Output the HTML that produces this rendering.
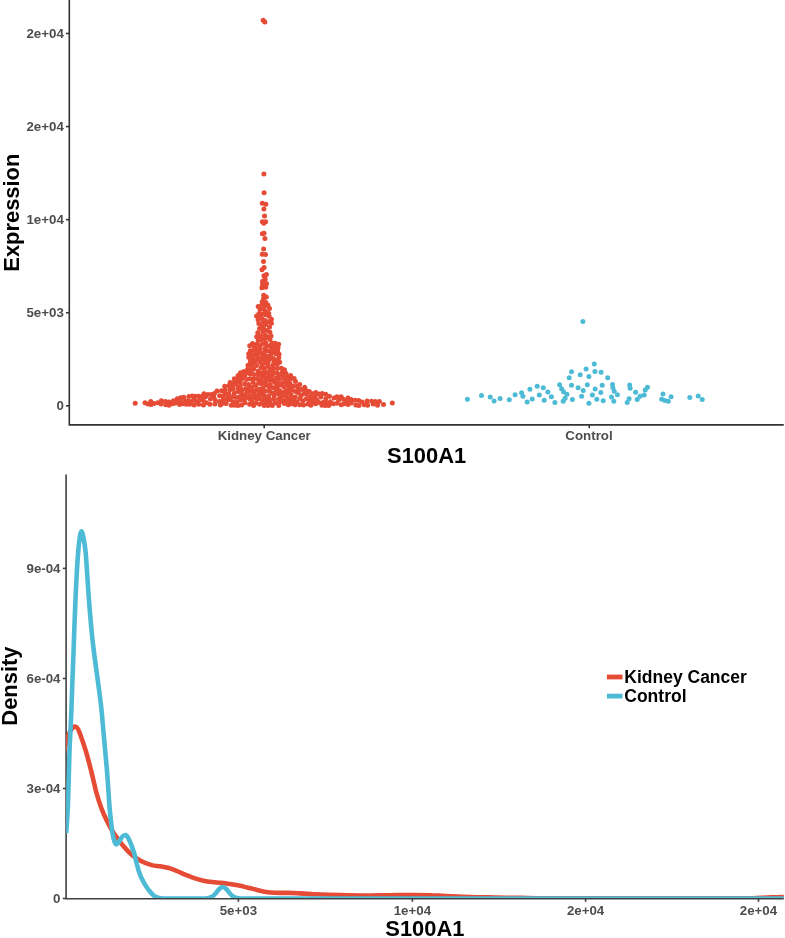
<!DOCTYPE html>
<html lang="en"><head><meta charset="utf-8"><title>S100A1 expression</title>
<style>html,body{margin:0;padding:0;background:#fff;}body{width:785px;height:938px;overflow:hidden;}svg{display:block;font-family:"Liberation Sans",Arial,sans-serif;font-weight:bold;}.tk{font-size:13.3px;fill:#4D4D4D;}.ti{font-size:21.9px;fill:#000;}.lg{font-size:17.5px;fill:#000;}.ax{stroke:#333333;stroke-width:1.6;fill:none;}</style></head><body>
<svg width="785" height="938" viewBox="0 0 785 938">
<rect width="785" height="938" fill="#fff"/>
<defs><clipPath id="cp"><rect x="66.1" y="474" width="717.7" height="424.0"/></clipPath></defs>
<g class="ax">
<path d="M69.3,0V424.9H783.8"/>
<path d="M66.0,33.50H69.3"/>
<path d="M66.0,126.58H69.3"/>
<path d="M66.0,219.66H69.3"/>
<path d="M66.0,312.74H69.3"/>
<path d="M66.0,405.82H69.3"/>
<path d="M264.2,424.9V428.2"/><path d="M589.3,424.9V428.2"/>
</g>
<text class="tk" x="63.8" y="37.95" text-anchor="end">2e+04</text>
<text class="tk" x="63.8" y="131.03" text-anchor="end">2e+04</text>
<text class="tk" x="63.8" y="224.11" text-anchor="end">1e+04</text>
<text class="tk" x="63.8" y="317.19" text-anchor="end">5e+03</text>
<text class="tk" x="63.8" y="410.27" text-anchor="end">0</text>
<text class="tk" x="264.2" y="440" text-anchor="middle">Kidney Cancer</text>
<text class="tk" x="589" y="440" text-anchor="middle">Control</text>
<text class="ti" x="426.6" y="462.6" text-anchor="middle">S100A1</text>
<text class="ti" transform="translate(18.7,212.7) rotate(-90)" text-anchor="middle">Expression</text>
<g fill="#E64B35">
<circle cx="263.2" cy="20.25" r="2.5"/>
<circle cx="264.8" cy="22.05" r="2.5"/>
<circle cx="263.9" cy="174.05" r="2.5"/>
<circle cx="264.1" cy="192.75" r="2.5"/>
<circle cx="262.3" cy="203.35" r="2.5"/>
<circle cx="265.8" cy="204.25" r="2.5"/>
<circle cx="263.9" cy="208.95" r="2.5"/>
<circle cx="264.5" cy="216.05" r="2.5"/>
<circle cx="262.4" cy="221.85" r="2.5"/>
<circle cx="265.6" cy="221.65" r="2.5"/>
<circle cx="263.8" cy="223.25" r="2.5"/>
<circle cx="262.4" cy="233.85" r="2.5"/>
<circle cx="264.0" cy="233.35" r="2.5"/>
<circle cx="264.9" cy="238.55" r="2.5"/>
<circle cx="263.6" cy="249.05" r="2.5"/>
<circle cx="262.3" cy="254.15" r="2.5"/>
<circle cx="265.5" cy="254.55" r="2.5"/>
<circle cx="263.5" cy="261.45" r="2.5"/>
<circle cx="264.1" cy="267.55" r="2.5"/>
<circle cx="262.0" cy="269.85" r="2.5"/>
<circle cx="266.4" cy="274.55" r="2.5"/>
<circle cx="263.9" cy="275.85" r="2.5"/>
<circle cx="265.2" cy="279.05" r="2.5"/>
<circle cx="262.6" cy="281.35" r="2.5"/>
<circle cx="266.4" cy="283.55" r="2.5"/>
<circle cx="135.2" cy="403.15" r="2.5"/>
<circle cx="392.3" cy="403.05" r="2.5"/>
<circle cx="258.8" cy="323.53" r="2.5"/>
<circle cx="250.4" cy="363.21" r="2.5"/>
<circle cx="259.8" cy="349.25" r="2.5"/>
<circle cx="249.7" cy="345.80" r="2.5"/>
<circle cx="256.6" cy="336.85" r="2.5"/>
<circle cx="263.7" cy="295.25" r="2.5"/>
<circle cx="236.0" cy="384.55" r="2.5"/>
<circle cx="265.5" cy="311.33" r="2.5"/>
<circle cx="278.5" cy="399.21" r="2.5"/>
<circle cx="269.9" cy="332.37" r="2.5"/>
<circle cx="245.7" cy="388.38" r="2.5"/>
<circle cx="262.2" cy="301.75" r="2.5"/>
<circle cx="268.9" cy="321.67" r="2.5"/>
<circle cx="264.9" cy="306.17" r="2.5"/>
<circle cx="260.0" cy="361.75" r="2.5"/>
<circle cx="250.4" cy="350.69" r="2.5"/>
<circle cx="260.8" cy="336.12" r="2.5"/>
<circle cx="262.5" cy="355.28" r="2.5"/>
<circle cx="253.9" cy="369.04" r="2.5"/>
<circle cx="285.7" cy="390.40" r="2.5"/>
<circle cx="271.4" cy="319.18" r="2.5"/>
<circle cx="263.6" cy="298.57" r="2.5"/>
<circle cx="244.9" cy="376.09" r="2.5"/>
<circle cx="252.6" cy="343.56" r="2.5"/>
<circle cx="272.8" cy="365.30" r="2.5"/>
<circle cx="275.6" cy="353.76" r="2.5"/>
<circle cx="266.5" cy="356.35" r="2.5"/>
<circle cx="269.9" cy="339.59" r="2.5"/>
<circle cx="259.2" cy="398.84" r="2.5"/>
<circle cx="269.9" cy="369.34" r="2.5"/>
<circle cx="341.3" cy="404.71" r="2.5"/>
<circle cx="262.2" cy="318.77" r="2.5"/>
<circle cx="248.0" cy="365.36" r="2.5"/>
<circle cx="258.2" cy="340.25" r="2.5"/>
<circle cx="262.6" cy="314.29" r="2.5"/>
<circle cx="225.1" cy="389.95" r="2.5"/>
<circle cx="264.9" cy="338.74" r="2.5"/>
<circle cx="295.5" cy="391.40" r="2.5"/>
<circle cx="309.3" cy="391.50" r="2.5"/>
<circle cx="265.8" cy="343.08" r="2.5"/>
<circle cx="256.5" cy="316.12" r="2.5"/>
<circle cx="264.6" cy="368.01" r="2.5"/>
<circle cx="269.5" cy="359.16" r="2.5"/>
<circle cx="292.1" cy="390.33" r="2.5"/>
<circle cx="262.8" cy="331.85" r="2.5"/>
<circle cx="260.1" cy="309.57" r="2.5"/>
<circle cx="262.5" cy="284.28" r="2.5"/>
<circle cx="265.7" cy="287.34" r="2.5"/>
<circle cx="253.1" cy="358.74" r="2.5"/>
<circle cx="259.5" cy="328.42" r="2.5"/>
<circle cx="304.7" cy="387.23" r="2.5"/>
<circle cx="269.1" cy="316.37" r="2.5"/>
<circle cx="269.4" cy="399.60" r="2.5"/>
<circle cx="351.2" cy="402.94" r="2.5"/>
<circle cx="265.9" cy="377.89" r="2.5"/>
<circle cx="253.6" cy="378.75" r="2.5"/>
<circle cx="285.7" cy="382.03" r="2.5"/>
<circle cx="250.3" cy="374.00" r="2.5"/>
<circle cx="261.9" cy="287.77" r="2.5"/>
<circle cx="281.4" cy="368.25" r="2.5"/>
<circle cx="373.2" cy="404.10" r="2.5"/>
<circle cx="303.9" cy="393.46" r="2.5"/>
<circle cx="236.4" cy="381.25" r="2.5"/>
<circle cx="277.2" cy="364.38" r="2.5"/>
<circle cx="279.4" cy="379.14" r="2.5"/>
<circle cx="295.5" cy="381.39" r="2.5"/>
<circle cx="306.0" cy="399.10" r="2.5"/>
<circle cx="261.9" cy="304.87" r="2.5"/>
<circle cx="265.9" cy="302.58" r="2.5"/>
<circle cx="239.8" cy="382.08" r="2.5"/>
<circle cx="299.7" cy="384.51" r="2.5"/>
<circle cx="264.8" cy="363.06" r="2.5"/>
<circle cx="252.8" cy="397.50" r="2.5"/>
<circle cx="256.5" cy="355.38" r="2.5"/>
<circle cx="245.2" cy="394.64" r="2.5"/>
<circle cx="254.3" cy="393.94" r="2.5"/>
<circle cx="264.2" cy="395.57" r="2.5"/>
<circle cx="264.7" cy="348.76" r="2.5"/>
<circle cx="258.2" cy="306.46" r="2.5"/>
<circle cx="256.2" cy="352.21" r="2.5"/>
<circle cx="287.0" cy="376.44" r="2.5"/>
<circle cx="299.8" cy="398.45" r="2.5"/>
<circle cx="306.1" cy="390.57" r="2.5"/>
<circle cx="325.9" cy="398.67" r="2.5"/>
<circle cx="259.0" cy="313.44" r="2.5"/>
<circle cx="224.9" cy="393.06" r="2.5"/>
<circle cx="196.7" cy="401.61" r="2.5"/>
<circle cx="244.2" cy="399.79" r="2.5"/>
<circle cx="275.3" cy="343.35" r="2.5"/>
<circle cx="265.7" cy="324.46" r="2.5"/>
<circle cx="333.2" cy="403.74" r="2.5"/>
<circle cx="169.1" cy="402.12" r="2.5"/>
<circle cx="250.0" cy="378.74" r="2.5"/>
<circle cx="274.2" cy="395.75" r="2.5"/>
<circle cx="247.6" cy="369.21" r="2.5"/>
<circle cx="261.2" cy="367.73" r="2.5"/>
<circle cx="287.6" cy="398.07" r="2.5"/>
<circle cx="259.9" cy="388.90" r="2.5"/>
<circle cx="227.6" cy="396.65" r="2.5"/>
<circle cx="255.8" cy="385.49" r="2.5"/>
<circle cx="269.8" cy="345.71" r="2.5"/>
<circle cx="226.2" cy="403.42" r="2.5"/>
<circle cx="279.8" cy="385.21" r="2.5"/>
<circle cx="293.3" cy="386.30" r="2.5"/>
<circle cx="256.6" cy="365.59" r="2.5"/>
<circle cx="367.1" cy="400.91" r="2.5"/>
<circle cx="219.4" cy="401.39" r="2.5"/>
<circle cx="257.8" cy="332.71" r="2.5"/>
<circle cx="271.8" cy="348.44" r="2.5"/>
<circle cx="253.3" cy="390.88" r="2.5"/>
<circle cx="287.5" cy="385.53" r="2.5"/>
<circle cx="270.2" cy="384.49" r="2.5"/>
<circle cx="264.2" cy="375.01" r="2.5"/>
<circle cx="262.5" cy="402.61" r="2.5"/>
<circle cx="254.0" cy="374.40" r="2.5"/>
<circle cx="269.5" cy="308.42" r="2.5"/>
<circle cx="180.6" cy="397.82" r="2.5"/>
<circle cx="251.9" cy="401.68" r="2.5"/>
<circle cx="259.5" cy="316.84" r="2.5"/>
<circle cx="210.4" cy="398.95" r="2.5"/>
<circle cx="252.9" cy="354.78" r="2.5"/>
<circle cx="278.0" cy="347.82" r="2.5"/>
<circle cx="262.6" cy="343.89" r="2.5"/>
<circle cx="261.8" cy="325.97" r="2.5"/>
<circle cx="224.7" cy="386.17" r="2.5"/>
<circle cx="282.0" cy="375.31" r="2.5"/>
<circle cx="254.4" cy="346.23" r="2.5"/>
<circle cx="276.9" cy="360.78" r="2.5"/>
<circle cx="243.9" cy="371.53" r="2.5"/>
<circle cx="261.6" cy="373.08" r="2.5"/>
<circle cx="271.8" cy="375.55" r="2.5"/>
<circle cx="205.5" cy="396.67" r="2.5"/>
<circle cx="206.4" cy="402.67" r="2.5"/>
<circle cx="325.7" cy="394.18" r="2.5"/>
<circle cx="315.1" cy="396.67" r="2.5"/>
<circle cx="261.6" cy="377.02" r="2.5"/>
<circle cx="285.1" cy="395.84" r="2.5"/>
<circle cx="265.8" cy="314.79" r="2.5"/>
<circle cx="248.8" cy="357.16" r="2.5"/>
<circle cx="293.8" cy="400.57" r="2.5"/>
<circle cx="244.6" cy="383.72" r="2.5"/>
<circle cx="367.6" cy="405.25" r="2.5"/>
<circle cx="269.5" cy="326.88" r="2.5"/>
<circle cx="219.6" cy="395.79" r="2.5"/>
<circle cx="282.6" cy="382.72" r="2.5"/>
<circle cx="177.3" cy="398.67" r="2.5"/>
<circle cx="355.0" cy="400.31" r="2.5"/>
<circle cx="213.6" cy="396.83" r="2.5"/>
<circle cx="258.7" cy="357.91" r="2.5"/>
<circle cx="260.1" cy="353.01" r="2.5"/>
<circle cx="274.6" cy="382.31" r="2.5"/>
<circle cx="296.7" cy="386.21" r="2.5"/>
<circle cx="258.1" cy="319.87" r="2.5"/>
<circle cx="291.0" cy="378.59" r="2.5"/>
<circle cx="268.3" cy="350.98" r="2.5"/>
<circle cx="227.3" cy="399.87" r="2.5"/>
<circle cx="231.3" cy="405.14" r="2.5"/>
<circle cx="211.2" cy="394.61" r="2.5"/>
<circle cx="191.5" cy="401.53" r="2.5"/>
<circle cx="278.7" cy="393.93" r="2.5"/>
<circle cx="246.6" cy="379.57" r="2.5"/>
<circle cx="282.3" cy="372.18" r="2.5"/>
<circle cx="272.0" cy="352.46" r="2.5"/>
<circle cx="265.4" cy="335.20" r="2.5"/>
<circle cx="257.3" cy="343.63" r="2.5"/>
<circle cx="277.4" cy="373.22" r="2.5"/>
<circle cx="194.0" cy="399.59" r="2.5"/>
<circle cx="295.1" cy="404.70" r="2.5"/>
<circle cx="261.9" cy="358.98" r="2.5"/>
<circle cx="234.3" cy="378.73" r="2.5"/>
<circle cx="277.7" cy="351.08" r="2.5"/>
<circle cx="273.9" cy="362.07" r="2.5"/>
<circle cx="283.8" cy="386.68" r="2.5"/>
<circle cx="277.3" cy="368.57" r="2.5"/>
<circle cx="217.0" cy="391.00" r="2.5"/>
<circle cx="268.7" cy="313.26" r="2.5"/>
<circle cx="239.1" cy="396.93" r="2.5"/>
<circle cx="273.3" cy="368.80" r="2.5"/>
<circle cx="301.7" cy="389.51" r="2.5"/>
<circle cx="258.2" cy="371.07" r="2.5"/>
<circle cx="145.0" cy="402.87" r="2.5"/>
<circle cx="272.1" cy="379.70" r="2.5"/>
<circle cx="237.9" cy="391.62" r="2.5"/>
<circle cx="318.9" cy="402.54" r="2.5"/>
<circle cx="275.9" cy="378.14" r="2.5"/>
<circle cx="256.2" cy="360.62" r="2.5"/>
<circle cx="257.3" cy="378.64" r="2.5"/>
<circle cx="264.5" cy="371.26" r="2.5"/>
<circle cx="320.8" cy="396.90" r="2.5"/>
<circle cx="241.6" cy="379.35" r="2.5"/>
<circle cx="275.5" cy="392.34" r="2.5"/>
<circle cx="240.3" cy="386.00" r="2.5"/>
<circle cx="269.4" cy="391.32" r="2.5"/>
<circle cx="173.5" cy="400.77" r="2.5"/>
<circle cx="263.7" cy="328.67" r="2.5"/>
<circle cx="248.6" cy="384.53" r="2.5"/>
<circle cx="265.3" cy="320.55" r="2.5"/>
<circle cx="262.9" cy="322.88" r="2.5"/>
<circle cx="348.0" cy="398.00" r="2.5"/>
<circle cx="229.9" cy="389.73" r="2.5"/>
<circle cx="312.8" cy="402.39" r="2.5"/>
<circle cx="278.8" cy="357.74" r="2.5"/>
<circle cx="298.4" cy="392.95" r="2.5"/>
<circle cx="261.4" cy="380.28" r="2.5"/>
<circle cx="207.9" cy="394.62" r="2.5"/>
<circle cx="379.4" cy="401.40" r="2.5"/>
<circle cx="312.6" cy="393.75" r="2.5"/>
<circle cx="228.8" cy="385.80" r="2.5"/>
<circle cx="282.6" cy="392.82" r="2.5"/>
<circle cx="383.5" cy="404.46" r="2.5"/>
<circle cx="202.0" cy="396.46" r="2.5"/>
<circle cx="253.1" cy="382.14" r="2.5"/>
<circle cx="266.0" cy="385.20" r="2.5"/>
<circle cx="251.1" cy="370.57" r="2.5"/>
<circle cx="261.0" cy="394.66" r="2.5"/>
<circle cx="242.2" cy="390.03" r="2.5"/>
<circle cx="290.0" cy="383.30" r="2.5"/>
<circle cx="267.0" cy="330.51" r="2.5"/>
<circle cx="233.0" cy="388.70" r="2.5"/>
<circle cx="337.1" cy="403.27" r="2.5"/>
<circle cx="330.4" cy="401.87" r="2.5"/>
<circle cx="223.1" cy="399.59" r="2.5"/>
<circle cx="274.5" cy="350.52" r="2.5"/>
<circle cx="214.9" cy="404.04" r="2.5"/>
<circle cx="268.0" cy="366.17" r="2.5"/>
<circle cx="203.3" cy="400.55" r="2.5"/>
<circle cx="271.0" cy="335.98" r="2.5"/>
<circle cx="273.5" cy="358.61" r="2.5"/>
<circle cx="251.9" cy="386.96" r="2.5"/>
<circle cx="274.3" cy="373.29" r="2.5"/>
<circle cx="273.1" cy="387.86" r="2.5"/>
<circle cx="249.8" cy="399.04" r="2.5"/>
<circle cx="295.2" cy="397.08" r="2.5"/>
<circle cx="297.0" cy="401.84" r="2.5"/>
<circle cx="268.0" cy="362.43" r="2.5"/>
<circle cx="284.2" cy="378.19" r="2.5"/>
<circle cx="318.7" cy="394.05" r="2.5"/>
<circle cx="362.1" cy="402.07" r="2.5"/>
<circle cx="290.2" cy="400.92" r="2.5"/>
<circle cx="233.4" cy="382.64" r="2.5"/>
<circle cx="259.6" cy="404.15" r="2.5"/>
<circle cx="272.0" cy="343.02" r="2.5"/>
<circle cx="277.2" cy="389.06" r="2.5"/>
<circle cx="286.6" cy="401.08" r="2.5"/>
<circle cx="258.6" cy="382.99" r="2.5"/>
<circle cx="198.8" cy="404.28" r="2.5"/>
<circle cx="241.6" cy="376.02" r="2.5"/>
<circle cx="250.2" cy="391.43" r="2.5"/>
<circle cx="236.9" cy="402.27" r="2.5"/>
<circle cx="257.8" cy="374.41" r="2.5"/>
<circle cx="265.4" cy="381.68" r="2.5"/>
<circle cx="238.0" cy="388.43" r="2.5"/>
<circle cx="274.1" cy="346.33" r="2.5"/>
<circle cx="209.9" cy="404.18" r="2.5"/>
<circle cx="221.5" cy="390.76" r="2.5"/>
<circle cx="259.9" cy="345.72" r="2.5"/>
<circle cx="153.9" cy="403.48" r="2.5"/>
<circle cx="192.2" cy="395.95" r="2.5"/>
<circle cx="251.8" cy="366.59" r="2.5"/>
<circle cx="157.7" cy="402.66" r="2.5"/>
<circle cx="266.8" cy="346.37" r="2.5"/>
<circle cx="161.1" cy="403.88" r="2.5"/>
<circle cx="323.4" cy="402.28" r="2.5"/>
<circle cx="343.4" cy="399.28" r="2.5"/>
<circle cx="290.8" cy="394.50" r="2.5"/>
<circle cx="262.5" cy="391.64" r="2.5"/>
<circle cx="275.1" cy="402.69" r="2.5"/>
<circle cx="165.5" cy="401.60" r="2.5"/>
<circle cx="186.3" cy="404.30" r="2.5"/>
<circle cx="214.4" cy="393.61" r="2.5"/>
<circle cx="253.6" cy="405.50" r="2.5"/>
<circle cx="256.6" cy="389.84" r="2.5"/>
<circle cx="272.0" cy="393.12" r="2.5"/>
<circle cx="228.9" cy="393.64" r="2.5"/>
<circle cx="179.6" cy="404.41" r="2.5"/>
<circle cx="230.4" cy="399.73" r="2.5"/>
<circle cx="290.3" cy="387.17" r="2.5"/>
<circle cx="278.7" cy="405.55" r="2.5"/>
<circle cx="248.7" cy="353.70" r="2.5"/>
<circle cx="249.7" cy="395.87" r="2.5"/>
<circle cx="286.0" cy="373.41" r="2.5"/>
<circle cx="273.5" cy="399.11" r="2.5"/>
<circle cx="268.9" cy="380.19" r="2.5"/>
<circle cx="263.0" cy="388.29" r="2.5"/>
<circle cx="341.1" cy="396.66" r="2.5"/>
<circle cx="265.5" cy="391.05" r="2.5"/>
<circle cx="250.3" cy="360.09" r="2.5"/>
<circle cx="220.4" cy="405.11" r="2.5"/>
<circle cx="165.8" cy="404.70" r="2.5"/>
<circle cx="302.8" cy="400.77" r="2.5"/>
<circle cx="249.6" cy="404.31" r="2.5"/>
<circle cx="194.2" cy="405.04" r="2.5"/>
<circle cx="266.3" cy="399.23" r="2.5"/>
<circle cx="263.3" cy="308.88" r="2.5"/>
<circle cx="234.3" cy="393.10" r="2.5"/>
<circle cx="270.5" cy="355.35" r="2.5"/>
<circle cx="268.0" cy="305.29" r="2.5"/>
<circle cx="279.9" cy="390.81" r="2.5"/>
<circle cx="151.0" cy="404.61" r="2.5"/>
<circle cx="215.0" cy="399.70" r="2.5"/>
<circle cx="267.7" cy="372.74" r="2.5"/>
<circle cx="351.0" cy="399.43" r="2.5"/>
<circle cx="169.1" cy="405.28" r="2.5"/>
<circle cx="315.6" cy="403.75" r="2.5"/>
<circle cx="270.1" cy="402.86" r="2.5"/>
<circle cx="299.7" cy="404.84" r="2.5"/>
<circle cx="307.1" cy="394.50" r="2.5"/>
<circle cx="309.2" cy="400.23" r="2.5"/>
<circle cx="344.3" cy="403.86" r="2.5"/>
<circle cx="272.4" cy="405.40" r="2.5"/>
<circle cx="238.0" cy="405.46" r="2.5"/>
<circle cx="336.9" cy="396.71" r="2.5"/>
<circle cx="282.6" cy="399.95" r="2.5"/>
<circle cx="258.9" cy="392.06" r="2.5"/>
<circle cx="279.1" cy="354.29" r="2.5"/>
<circle cx="261.6" cy="383.80" r="2.5"/>
<circle cx="253.6" cy="350.35" r="2.5"/>
<circle cx="334.1" cy="397.97" r="2.5"/>
<circle cx="232.5" cy="396.73" r="2.5"/>
<circle cx="238.1" cy="375.47" r="2.5"/>
<circle cx="301.2" cy="395.43" r="2.5"/>
<circle cx="188.9" cy="396.50" r="2.5"/>
<circle cx="329.4" cy="396.25" r="2.5"/>
<circle cx="253.7" cy="363.04" r="2.5"/>
<circle cx="244.9" cy="402.83" r="2.5"/>
<circle cx="183.8" cy="397.30" r="2.5"/>
<circle cx="279.6" cy="362.28" r="2.5"/>
<circle cx="298.5" cy="388.74" r="2.5"/>
<circle cx="280.7" cy="396.57" r="2.5"/>
<circle cx="241.6" cy="405.04" r="2.5"/>
<circle cx="241.6" cy="393.79" r="2.5"/>
<circle cx="371.6" cy="401.29" r="2.5"/>
<circle cx="307.9" cy="404.04" r="2.5"/>
<circle cx="269.5" cy="387.57" r="2.5"/>
<circle cx="358.7" cy="400.53" r="2.5"/>
<circle cx="265.2" cy="359.31" r="2.5"/>
<circle cx="279.6" cy="402.20" r="2.5"/>
<circle cx="172.6" cy="403.86" r="2.5"/>
<circle cx="278.6" cy="344.22" r="2.5"/>
<circle cx="268.6" cy="396.07" r="2.5"/>
<circle cx="175.7" cy="402.95" r="2.5"/>
<circle cx="276.7" cy="385.86" r="2.5"/>
<circle cx="256.1" cy="398.68" r="2.5"/>
<circle cx="303.6" cy="404.89" r="2.5"/>
<circle cx="271.5" cy="323.34" r="2.5"/>
<circle cx="230.1" cy="382.45" r="2.5"/>
<circle cx="261.5" cy="340.01" r="2.5"/>
<circle cx="287.6" cy="393.24" r="2.5"/>
<circle cx="277.6" cy="382.89" r="2.5"/>
<circle cx="147.9" cy="404.05" r="2.5"/>
<circle cx="364.2" cy="404.85" r="2.5"/>
<circle cx="150.8" cy="401.39" r="2.5"/>
<circle cx="338.6" cy="400.07" r="2.5"/>
<circle cx="377.5" cy="405.36" r="2.5"/>
<circle cx="264.2" cy="352.53" r="2.5"/>
<circle cx="284.4" cy="403.58" r="2.5"/>
<circle cx="310.4" cy="396.63" r="2.5"/>
<circle cx="288.0" cy="379.85" r="2.5"/>
<circle cx="256.1" cy="403.06" r="2.5"/>
<circle cx="203.4" cy="404.89" r="2.5"/>
<circle cx="326.7" cy="402.66" r="2.5"/>
<circle cx="247.0" cy="372.82" r="2.5"/>
<circle cx="179.7" cy="401.27" r="2.5"/>
<circle cx="256.7" cy="348.69" r="2.5"/>
<circle cx="346.7" cy="401.38" r="2.5"/>
<circle cx="184.6" cy="400.92" r="2.5"/>
<circle cx="240.0" cy="400.10" r="2.5"/>
<circle cx="199.9" cy="399.67" r="2.5"/>
<circle cx="358.9" cy="405.45" r="2.5"/>
<circle cx="198.6" cy="396.21" r="2.5"/>
<circle cx="348.1" cy="404.51" r="2.5"/>
<circle cx="288.3" cy="404.78" r="2.5"/>
<circle cx="161.4" cy="400.75" r="2.5"/>
<circle cx="268.1" cy="405.44" r="2.5"/>
<circle cx="235.7" cy="397.58" r="2.5"/>
<circle cx="268.9" cy="376.83" r="2.5"/>
<circle cx="247.1" cy="391.49" r="2.5"/>
<circle cx="257.1" cy="395.68" r="2.5"/>
<circle cx="233.4" cy="402.08" r="2.5"/>
<circle cx="289.0" cy="390.02" r="2.5"/>
<circle cx="266.1" cy="284.28" r="2.5"/>
<circle cx="316.9" cy="400.09" r="2.5"/>
<circle cx="284.5" cy="369.87" r="2.5"/>
<circle cx="322.0" cy="405.28" r="2.5"/>
<circle cx="195.3" cy="396.35" r="2.5"/>
<circle cx="223.0" cy="403.16" r="2.5"/>
<circle cx="240.5" cy="372.82" r="2.5"/>
<circle cx="355.8" cy="404.94" r="2.5"/>
<circle cx="189.7" cy="404.25" r="2.5"/>
<circle cx="188.1" cy="400.81" r="2.5"/>
<circle cx="234.7" cy="405.15" r="2.5"/>
<circle cx="223.3" cy="395.94" r="2.5"/>
<circle cx="290.6" cy="375.44" r="2.5"/>
<circle cx="182.8" cy="403.81" r="2.5"/>
<circle cx="266.3" cy="296.91" r="2.5"/>
<circle cx="261.9" cy="364.23" r="2.5"/>
<circle cx="315.7" cy="392.51" r="2.5"/>
<circle cx="238.3" cy="378.72" r="2.5"/>
<circle cx="203.9" cy="393.86" r="2.5"/>
<circle cx="322.2" cy="393.60" r="2.5"/>
<circle cx="266.5" cy="402.76" r="2.5"/>
<circle cx="294.1" cy="378.46" r="2.5"/>
<circle cx="278.9" cy="375.95" r="2.5"/>
<circle cx="375.3" cy="401.46" r="2.5"/>
<circle cx="310.9" cy="405.37" r="2.5"/>
<circle cx="262.6" cy="399.38" r="2.5"/>
<circle cx="291.8" cy="397.60" r="2.5"/>
<circle cx="325.3" cy="405.43" r="2.5"/>
<circle cx="267.9" cy="337.18" r="2.5"/>
<circle cx="271.3" cy="372.18" r="2.5"/>
<circle cx="328.7" cy="405.42" r="2.5"/>
<circle cx="246.8" cy="397.57" r="2.5"/>
<circle cx="242.2" cy="397.18" r="2.5"/>
<circle cx="249.0" cy="388.18" r="2.5"/>
<circle cx="291.6" cy="403.79" r="2.5"/>
<circle cx="232.0" cy="385.59" r="2.5"/>
<circle cx="264.2" cy="405.41" r="2.5"/>
<circle cx="313.0" cy="398.96" r="2.5"/>
</g>
<g fill="#4DBBD5">
<circle cx="467.4" cy="399.25" r="2.5"/>
<circle cx="481.5" cy="395.45" r="2.5"/>
<circle cx="490.2" cy="397.05" r="2.5"/>
<circle cx="494.1" cy="401.05" r="2.5"/>
<circle cx="500.1" cy="398.55" r="2.5"/>
<circle cx="509.3" cy="399.65" r="2.5"/>
<circle cx="515.1" cy="394.75" r="2.5"/>
<circle cx="521.6" cy="392.75" r="2.5"/>
<circle cx="522.9" cy="396.35" r="2.5"/>
<circle cx="527.2" cy="401.95" r="2.5"/>
<circle cx="529.9" cy="389.25" r="2.5"/>
<circle cx="532.2" cy="398.95" r="2.5"/>
<circle cx="537.2" cy="386.25" r="2.5"/>
<circle cx="539.3" cy="395.05" r="2.5"/>
<circle cx="543.3" cy="387.85" r="2.5"/>
<circle cx="544.2" cy="400.35" r="2.5"/>
<circle cx="547.9" cy="392.05" r="2.5"/>
<circle cx="551.4" cy="396.65" r="2.5"/>
<circle cx="554.9" cy="402.45" r="2.5"/>
<circle cx="559.6" cy="384.85" r="2.5"/>
<circle cx="561.6" cy="388.65" r="2.5"/>
<circle cx="563.5" cy="391.85" r="2.5"/>
<circle cx="566.9" cy="394.35" r="2.5"/>
<circle cx="565.1" cy="398.25" r="2.5"/>
<circle cx="563.2" cy="401.35" r="2.5"/>
<circle cx="569.2" cy="377.85" r="2.5"/>
<circle cx="571.5" cy="371.75" r="2.5"/>
<circle cx="571.5" cy="385.25" r="2.5"/>
<circle cx="572.4" cy="399.45" r="2.5"/>
<circle cx="578.1" cy="387.65" r="2.5"/>
<circle cx="580.2" cy="374.65" r="2.5"/>
<circle cx="581.6" cy="396.35" r="2.5"/>
<circle cx="583.2" cy="390.55" r="2.5"/>
<circle cx="586.1" cy="368.95" r="2.5"/>
<circle cx="587.3" cy="384.85" r="2.5"/>
<circle cx="588.9" cy="376.55" r="2.5"/>
<circle cx="588.9" cy="403.35" r="2.5"/>
<circle cx="592.4" cy="395.05" r="2.5"/>
<circle cx="594.3" cy="364.05" r="2.5"/>
<circle cx="594.9" cy="371.45" r="2.5"/>
<circle cx="595.1" cy="389.05" r="2.5"/>
<circle cx="596.8" cy="399.25" r="2.5"/>
<circle cx="601.1" cy="372.35" r="2.5"/>
<circle cx="600.8" cy="392.45" r="2.5"/>
<circle cx="602.2" cy="385.25" r="2.5"/>
<circle cx="603.2" cy="400.75" r="2.5"/>
<circle cx="607.7" cy="377.85" r="2.5"/>
<circle cx="612.5" cy="384.55" r="2.5"/>
<circle cx="612.9" cy="387.75" r="2.5"/>
<circle cx="614.2" cy="391.25" r="2.5"/>
<circle cx="617.4" cy="394.65" r="2.5"/>
<circle cx="611.5" cy="396.95" r="2.5"/>
<circle cx="613.8" cy="401.35" r="2.5"/>
<circle cx="629.7" cy="385.05" r="2.5"/>
<circle cx="630.1" cy="388.25" r="2.5"/>
<circle cx="635.6" cy="392.25" r="2.5"/>
<circle cx="629.1" cy="398.85" r="2.5"/>
<circle cx="627.2" cy="402.45" r="2.5"/>
<circle cx="640.1" cy="396.35" r="2.5"/>
<circle cx="637.2" cy="399.45" r="2.5"/>
<circle cx="645.2" cy="389.95" r="2.5"/>
<circle cx="644.2" cy="395.05" r="2.5"/>
<circle cx="647.5" cy="387.35" r="2.5"/>
<circle cx="663.0" cy="394.05" r="2.5"/>
<circle cx="671.1" cy="396.65" r="2.5"/>
<circle cx="661.7" cy="399.25" r="2.5"/>
<circle cx="664.9" cy="400.55" r="2.5"/>
<circle cx="668.3" cy="401.35" r="2.5"/>
<circle cx="689.8" cy="397.55" r="2.5"/>
<circle cx="698.2" cy="396.05" r="2.5"/>
<circle cx="702.2" cy="399.45" r="2.5"/>
<circle cx="582.9" cy="321.40" r="2.5"/>
</g>
<g class="ax" style="stroke:#414141">
<path d="M66.1,474.4V898.7H783.8"/>
<path d="M62.8,568.40H66.1"/>
<path d="M62.8,678.50H66.1"/>
<path d="M62.8,788.50H66.1"/>
<path d="M62.8,898.50H66.1"/>
<path d="M238.40,898.5V901.8"/>
<path d="M412.40,898.5V901.8"/>
<path d="M585.60,898.5V901.8"/>
<path d="M758.50,898.5V901.8"/>
</g>
<text class="tk" x="60.5" y="573.35" text-anchor="end">9e-04</text>
<text class="tk" x="60.5" y="683.45" text-anchor="end">6e-04</text>
<text class="tk" x="60.5" y="793.45" text-anchor="end">3e-04</text>
<text class="tk" x="60.5" y="903.45" text-anchor="end">0</text>
<text class="tk" x="238.40" y="915.4" text-anchor="middle">5e+03</text>
<text class="tk" x="412.40" y="915.4" text-anchor="middle">1e+04</text>
<text class="tk" x="585.60" y="915.4" text-anchor="middle">2e+04</text>
<text class="tk" x="758.50" y="915.4" text-anchor="middle">2e+04</text>
<text class="ti" x="424.9" y="936.3" text-anchor="middle">S100A1</text>
<text class="ti" transform="translate(17.4,686.1) rotate(-90)" text-anchor="middle">Density</text>
<g clip-path="url(#cp)" fill="none" stroke-width="4.6" stroke-linejoin="round">
<path stroke="#E64B35" d="M62.50,759.00 C62.80,757.58 63.70,753.22 64.30,750.50 C64.90,747.78 65.43,745.18 66.10,742.70 C66.77,740.22 67.55,737.62 68.30,735.60 C69.05,733.58 69.78,731.95 70.60,730.60 C71.42,729.25 72.38,728.17 73.20,727.50 C74.02,726.83 74.70,726.35 75.50,726.60 C76.30,726.85 77.08,727.35 78.00,729.00 C78.92,730.65 79.70,732.85 81.00,736.50 C82.30,740.15 84.08,745.08 85.80,750.90 C87.52,756.72 89.52,764.38 91.30,771.40 C93.08,778.42 94.85,786.95 96.50,793.00 C98.15,799.05 99.50,803.12 101.20,807.70 C102.90,812.28 104.60,816.25 106.70,820.50 C108.80,824.75 111.03,828.95 113.80,833.20 C116.57,837.45 120.27,842.38 123.30,846.00 C126.33,849.62 128.97,852.37 132.00,854.90 C135.03,857.43 138.22,859.50 141.50,861.20 C144.78,862.90 148.62,864.25 151.70,865.10 C154.78,865.95 157.32,865.85 160.00,866.30 C162.68,866.75 165.13,867.08 167.80,867.80 C170.47,868.52 173.02,869.43 176.00,870.60 C178.98,871.77 182.53,873.50 185.70,874.80 C188.87,876.10 192.03,877.42 195.00,878.40 C197.97,879.38 200.67,880.10 203.50,880.70 C206.33,881.30 209.03,881.65 212.00,882.00 C214.97,882.35 218.30,882.47 221.30,882.80 C224.30,883.13 227.02,883.55 230.00,884.00 C232.98,884.45 236.20,884.88 239.20,885.50 C242.20,886.12 245.03,886.97 248.00,887.70 C250.97,888.43 254.00,889.20 257.00,889.90 C260.00,890.60 263.03,891.42 266.00,891.90 C268.97,892.38 270.80,892.63 274.80,892.80 C278.80,892.97 285.80,892.80 290.00,892.90 C294.20,893.00 296.17,893.18 300.00,893.40 C303.83,893.62 306.33,893.92 313.00,894.20 C319.67,894.48 331.67,894.88 340.00,895.10 C348.33,895.32 354.67,895.48 363.00,895.50 C371.33,895.52 381.75,895.28 390.00,895.20 C398.25,895.12 405.83,894.98 412.50,895.00 C419.17,895.02 424.48,895.13 430.00,895.30 C435.52,895.47 438.93,895.72 445.60,896.00 C452.27,896.28 461.77,896.75 470.00,897.00 C478.23,897.25 486.67,897.35 495.00,897.50 C503.33,897.65 511.67,897.77 520.00,897.90 C528.33,898.03 531.67,898.22 545.00,898.30 C558.33,898.38 574.17,898.38 600.00,898.40 C625.83,898.42 675.83,898.42 700.00,898.40 C724.17,898.38 735.00,898.38 745.00,898.30 C755.00,898.22 755.50,898.05 760.00,897.90 C764.50,897.75 767.83,897.57 772.00,897.40 C776.17,897.23 782.00,897.00 785.00,896.90 C788.00,896.80 789.17,896.82 790.00,896.80"/>
<path stroke="#4DBBD5" d="M66.10,833.20 C66.40,828.67 67.33,819.72 67.90,806.00 C68.47,792.28 69.08,763.18 69.50,750.90 C69.92,738.62 70.07,739.45 70.40,732.30 C70.73,725.15 71.17,716.52 71.50,708.00 C71.83,699.48 72.08,689.93 72.40,681.20 C72.72,672.47 73.12,663.30 73.40,655.60 C73.68,647.90 73.73,644.82 74.10,635.00 C74.47,625.18 75.13,607.33 75.60,596.70 C76.07,586.07 76.47,578.65 76.90,571.20 C77.33,563.75 77.75,557.45 78.20,552.00 C78.65,546.55 79.05,541.97 79.60,538.50 C80.15,535.03 80.83,531.20 81.50,531.20 C82.17,531.20 82.92,535.03 83.60,538.50 C84.28,541.97 85.03,546.55 85.60,552.00 C86.17,557.45 86.48,563.75 87.00,571.20 C87.52,578.65 88.07,588.18 88.70,596.70 C89.33,605.22 90.25,615.92 90.80,622.30 C91.35,628.68 91.40,629.45 92.00,635.00 C92.60,640.55 93.42,647.90 94.40,655.60 C95.38,663.30 96.75,672.47 97.90,681.20 C99.05,689.93 100.37,699.48 101.30,708.00 C102.23,716.52 102.85,725.15 103.50,732.30 C104.15,739.45 104.62,744.45 105.20,750.90 C105.78,757.35 106.45,764.18 107.00,771.00 C107.55,777.82 108.07,785.68 108.50,791.80 C108.93,797.92 109.20,802.92 109.60,807.70 C110.00,812.48 110.42,816.25 110.90,820.50 C111.38,824.75 111.93,829.78 112.50,833.20 C113.07,836.62 113.70,839.13 114.30,841.00 C114.90,842.87 115.40,844.15 116.10,844.40 C116.80,844.65 117.52,843.73 118.50,842.50 C119.48,841.27 120.82,838.25 122.00,837.00 C123.18,835.75 124.43,834.58 125.60,835.00 C126.77,835.42 127.62,836.62 129.00,839.50 C130.38,842.38 132.25,846.98 133.90,852.30 C135.55,857.62 137.10,866.08 138.90,871.40 C140.70,876.72 142.45,880.37 144.70,884.20 C146.95,888.03 150.18,892.17 152.40,894.40 C154.62,896.63 156.07,896.92 158.00,897.60 C159.93,898.28 160.33,898.35 164.00,898.50 C167.67,898.65 174.00,898.50 180.00,898.50 C186.00,898.50 195.50,898.53 200.00,898.50 C204.50,898.47 205.00,898.58 207.00,898.30 C209.00,898.02 210.50,897.68 212.00,896.80 C213.50,895.92 214.75,894.35 216.00,893.00 C217.25,891.65 218.37,889.70 219.50,888.70 C220.63,887.70 221.72,887.00 222.80,887.00 C223.88,887.00 224.88,887.70 226.00,888.70 C227.12,889.70 228.25,891.65 229.50,893.00 C230.75,894.35 232.00,895.92 233.50,896.80 C235.00,897.68 236.42,898.02 238.50,898.30 C240.58,898.58 235.75,898.47 246.00,898.50 C256.25,898.53 257.67,898.50 300.00,898.50 C342.33,898.50 418.33,898.50 500.00,898.50 C581.67,898.50 741.67,898.50 790.00,898.50"/>
</g>
<rect x="606.9" y="674.6" width="15.6" height="4.8" fill="#E64B35"/>
<rect x="606.9" y="693.7" width="15.6" height="4.8" fill="#4DBBD5"/>
<text class="lg" x="624.3" y="683.3">Kidney Cancer</text>
<text class="lg" x="624.3" y="702.3">Control</text>
</svg></body></html>
